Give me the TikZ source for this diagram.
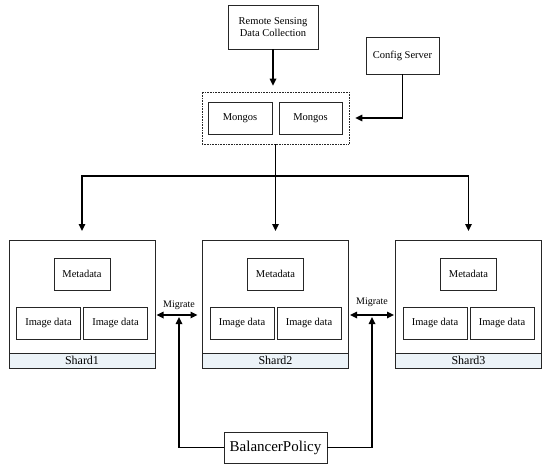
\documentclass[tikz,border=0pt]{standalone}
\usepackage{fontspec}
\setmainfont{Liberation Serif}
\usetikzlibrary{arrows.meta, positioning}
\definecolor{stripblue}{RGB}{236,243,248}
\tikzset{
  box/.style={draw=black!85, line width=0.8pt, inner sep=0pt, outer sep=0pt, align=center, font=\fontsize{10.5}{12.5}\selectfont},
  link/.style={line width=1.6pt, -{Triangle[length=7pt,width=6.5pt]}},
  twoway/.style={line width=1.6pt, {Triangle[length=7pt,width=6.5pt]}-{Triangle[length=7pt,width=6.5pt]}},
}

\begin{document}
\begin{tikzpicture}[x=1pt,y=-1pt]
				\useasboundingbox (0,0) rectangle (550,471);
				
				\node[box, minimum width=90pt, minimum height=44pt] (RS) at (273,27) {Remote Sensing\\Data Collection};
				\node[box, minimum width=73pt, minimum height=37pt] (CS) at (402.5,55.5) {Config Server};
				
				\node[draw=black!85, densely dotted, line width=0.6pt, inner sep=0pt, minimum width=147pt, minimum height=52pt] (MG) at (275.5,118) {};
				\node[box, minimum width=64pt, minimum height=32pt] (MA) at (240,118) {Mongos};
				\node[box, minimum width=63pt, minimum height=32pt] (MB) at (310.5,118) {Mongos};
				
				\foreach \n/\x in {1/82,2/275.5,3/468.5}{
					\node[box, minimum width=146pt, minimum height=113pt] (S\n) at (\x,296.5) {};
					\node[box, fill=stripblue, minimum width=146pt, minimum height=15pt, font=\fontsize{12}{14}\selectfont] (L\n) at (\x,360.5) {Shard\n};
					\node[box, minimum width=56pt, minimum height=32pt] (D\n) at (\x,274) {Metadata};
					\node[box, minimum width=64pt, minimum height=32pt] (IA\n) at (\x-33.5,323) {Image data};
					\node[box, minimum width=64pt, minimum height=32pt] (IB\n) at (\x+33.5,323) {Image data};
				}
				
				\coordinate (J) at (275.5,176);
				\coordinate (G1) at (179,315);
				\coordinate (G2) at (372,315);
				
				\draw[link, shorten >=6pt] (RS.south) -- (RS.south |- MG.north);
				\draw[link, shorten >=6pt] (CS.south) |- (MG.east);
				\draw[line width=1.6pt] (MG.south) -- (J);
				\fill (J) circle (1.6pt);
				\draw[link, shorten >=9pt] (J) -| (S1.north);
				\draw[link, shorten >=9pt] (J) -- (S2.north);
				\draw[link, shorten >=9pt] (J) -| (S3.north);
				
				\draw[twoway, shorten <=1.5pt, shorten >=5pt] (S1.east |- G1) -- (S2.west |- G1);
				\draw[twoway, shorten <=1.5pt, shorten >=1.5pt] (S2.east |- G2) -- (S3.west |- G2);
				\node[font=\fontsize{10}{12}\selectfont, above=2pt] (T1) at (G1) {Migrate};
				\node[font=\fontsize{10}{12}\selectfont, above=5pt] (T2) at (G2) {Migrate};
				
				\node[box, minimum width=103pt, minimum height=31pt, font=\fontsize{15}{18}\selectfont] (BP) at (275.5,447.5) {BalancerPolicy};
				\draw[link, shorten >=2pt] (BP.west) -| (G1);
				\draw[link, shorten >=2pt] (BP.east) -| (G2);
			\end{tikzpicture}
\end{document}
